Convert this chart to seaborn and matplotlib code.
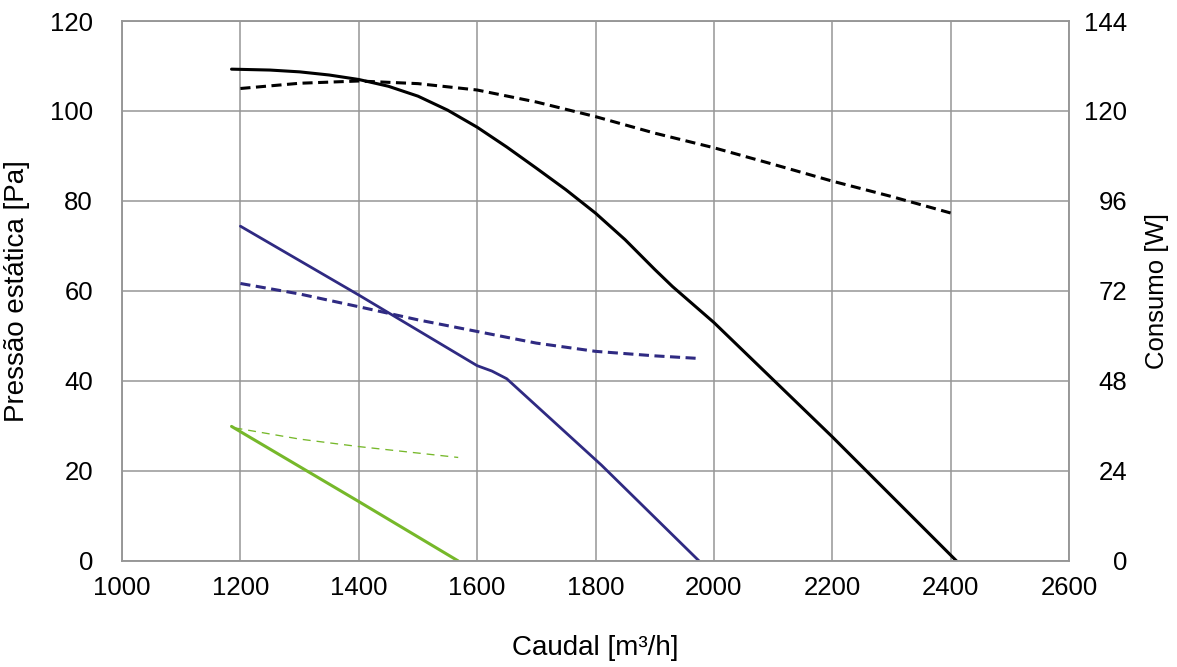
import matplotlib
matplotlib.use("Agg")
import matplotlib.pyplot as plt
import seaborn as sns

# ── data ──
# solid lines: static pressure [Pa] (left axis)
caudal_preto = [1185, 1250, 1300, 1350, 1400, 1450, 1500, 1550, 1600, 1650, 1700, 1750,
                1800, 1850, 1900, 1930, 2000, 2200, 2410]
pressao_preto = [109.3, 109.1, 108.7, 108.0, 107.0, 105.5, 103.3, 100.2, 96.4, 92.0, 87.3, 82.5,
                 77.3, 71.4, 64.8, 61.0, 53.0, 27.6, 0.0]

caudal_azul = [1200, 1400, 1600, 1625, 1650, 1810, 1975]
pressao_azul = [74.4, 59.1, 43.4, 42.2, 40.5, 21.3, 0.0]

caudal_verde = [1185, 1400, 1568]
pressao_verde = [29.9, 13.2, 0.0]

# dashed lines: power consumption [W] (right axis)
caudal_cons_preto = [1200, 1300, 1400, 1500, 1600, 1700, 1800, 1900, 2000, 2100, 2200, 2300, 2400]
consumo_preto = [126.0, 127.4, 128.0, 127.3, 125.6, 122.4, 118.5, 114.1, 110.2, 105.8, 101.3, 97.2, 92.8]

caudal_cons_azul = [1200, 1300, 1400, 1500, 1600, 1700, 1800, 1900, 1975]
consumo_azul = [74.0, 71.2, 67.8, 64.3, 61.2, 58.1, 55.9, 54.7, 54.0]

caudal_cons_verde = [1190, 1300, 1400, 1568]
consumo_verde = [35.5, 32.5, 30.5, 27.6]

x_ticks = [1000, 1200, 1400, 1600, 1800, 2000, 2200, 2400, 2600]
y_ticks = [0, 20, 40, 60, 80, 100, 120]
y2_ticks = [0, 24, 48, 72, 96, 120, 144]

PRETO = "#000000"
AZUL = "#2f2a82"
VERDE = "#76b82a"
GRELHA = "#969696"

sns.set_style("white")
plt.rcParams["font.family"] = ["Liberation Sans", "DejaVu Sans"]
plt.rcParams["text.color"] = "black"
plt.rcParams["axes.labelcolor"] = "black"
plt.rcParams["xtick.color"] = "black"
plt.rcParams["ytick.color"] = "black"

fig = plt.figure(figsize=(11.77, 6.67), dpi=100)
ax = fig.add_axes([0.1037, 0.159, 0.8045, 0.8095])
ax2 = ax.twinx()

sns.lineplot(x=caudal_preto, y=pressao_preto, ax=ax, color=PRETO, lw=2.2)
sns.lineplot(x=caudal_azul, y=pressao_azul, ax=ax, color=AZUL, lw=2.0)
sns.lineplot(x=caudal_verde, y=pressao_verde, ax=ax, color=VERDE, lw=2.2)

sns.lineplot(x=caudal_cons_preto, y=consumo_preto, ax=ax2, color=PRETO, lw=2.2,
             linestyle=(0, (3.3, 1.8)))
sns.lineplot(x=caudal_cons_azul, y=consumo_azul, ax=ax2, color=AZUL, lw=2.2,
             linestyle=(0, (3.3, 1.8)))
sns.lineplot(x=caudal_cons_verde, y=consumo_verde, ax=ax2, color=VERDE, lw=0.95,
             linestyle=(0, (6, 4.5)))

ax.set_xlim(1000, 2600)
ax.set_ylim(0, 120)
ax2.set_ylim(0, 144)
ax.set_xticks(x_ticks)
ax.set_yticks(y_ticks)
ax2.set_yticks(y2_ticks)

ax.grid(True, color=GRELHA, lw=1.1)
ax.set_axisbelow(True)
ax2.grid(False)
for a in (ax, ax2):
    for s in a.spines.values():
        s.set_color(GRELHA)
        s.set_linewidth(1.1)
        s.set_visible(True)

ax.tick_params(axis="x", length=0, pad=11, labelsize=18.5)
ax.tick_params(axis="y", length=0, pad=21, labelsize=18.5)
ax2.tick_params(axis="y", length=0, pad=42, labelsize=18.5)
for lbl in ax2.get_yticklabels():
    lbl.set_horizontalalignment("right")

ax.set_xlabel("Caudal [m³/h]", fontsize=20, labelpad=25)
ax.set_ylabel("Pressão estática [Pa]", fontsize=20, labelpad=14)
ax2.set_ylabel("Consumo [W]", fontsize=18.5, labelpad=13)

fig.savefig("out.png", dpi=100)
